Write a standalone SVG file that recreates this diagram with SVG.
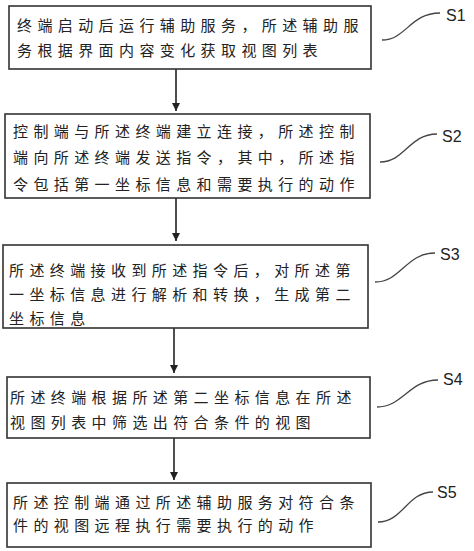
<svg xmlns="http://www.w3.org/2000/svg" width="474" height="551" viewBox="0 0 474 551">
<defs>
<marker id="ah" viewBox="0 0 10 10" refX="10" refY="5" markerWidth="8" markerHeight="8" markerUnits="userSpaceOnUse" orient="auto">
<path d="M0,0 L10,5 L0,10 Z" fill="#222"/>
</marker>
<style>
.box{fill:#fff;stroke:#333;stroke-width:1.6}
.t{font-family:"Noto Sans CJK SC","Noto Sans",sans-serif;font-size:15px;letter-spacing:5.4px;fill:#222}
.lbl{font-family:"Liberation Sans",Arial,sans-serif;font-size:16px;fill:#222}
.conn{stroke:#222;stroke-width:1.6;fill:none}
.lead{stroke:#444;stroke-width:1.3;fill:none}
</style>
</defs>
<rect width="474" height="551" fill="#fff"/>
<g id="connectors">
<line class="conn" x1="176" y1="69" x2="176" y2="111" marker-end="url(#ah)"/>
<line class="conn" x1="176" y1="198" x2="176" y2="241" marker-end="url(#ah)"/>
<line class="conn" x1="174" y1="328" x2="174" y2="373" marker-end="url(#ah)"/>
<line class="conn" x1="174" y1="438" x2="174" y2="480" marker-end="url(#ah)"/>
</g>
<g id="S1">
<rect class="box" x="9" y="6" width="362" height="63"/>
<text class="t" x="17" y="31">终端启动后运行辅助服务，所述辅助服</text>
<text class="t" x="17" y="56">务根据界面内容变化获取视图列表</text>
<path class="lead" d="M382,40 C406,40 410,13 440,13"/>
<text class="lbl" x="446" y="21">S1</text>
</g>
<g id="S2">
<rect class="box" x="5" y="114" width="365" height="84"/>
<text class="t" x="13" y="137">控制端与所述终端建立连接，所述控制</text>
<text class="t" x="13" y="163">端向所述终端发送指令，其中，所述指</text>
<text class="t" x="13" y="190">令包括第一坐标信息和需要执行的动作</text>
<path class="lead" d="M380,162 C405,162 409,134 437,134"/>
<text class="lbl" x="442" y="142">S2</text>
</g>
<g id="S3">
<rect class="box" x="3" y="245" width="365" height="83"/>
<text class="t" x="9" y="276">所述终端接收到所述指令后，对所述第</text>
<text class="t" x="9" y="300">一坐标信息进行解析和转换，生成第二</text>
<text class="t" x="9" y="324">坐标信息</text>
<path class="lead" d="M375,282 C401,282 406,253 435,253"/>
<text class="lbl" x="440" y="260">S3</text>
</g>
<g id="S4">
<rect class="box" x="7" y="377" width="363" height="61"/>
<text class="t" x="10" y="403">所述终端根据所述第二坐标信息在所述</text>
<text class="t" x="10" y="428">视图列表中筛选出符合条件的视图</text>
<path class="lead" d="M377,407 C403,407 409,380 438,380"/>
<text class="lbl" x="443" y="385">S4</text>
</g>
<g id="S5">
<rect class="box" x="7" y="483" width="364" height="64"/>
<text class="t" x="13" y="508">所述控制端通过所述辅助服务对符合条</text>
<text class="t" x="13" y="531">件的视图远程执行需要执行的动作</text>
<path class="lead" d="M378,522 C403,522 407,492 433,492"/>
<text class="lbl" x="437" y="498">S5</text>
</g>
</svg>
